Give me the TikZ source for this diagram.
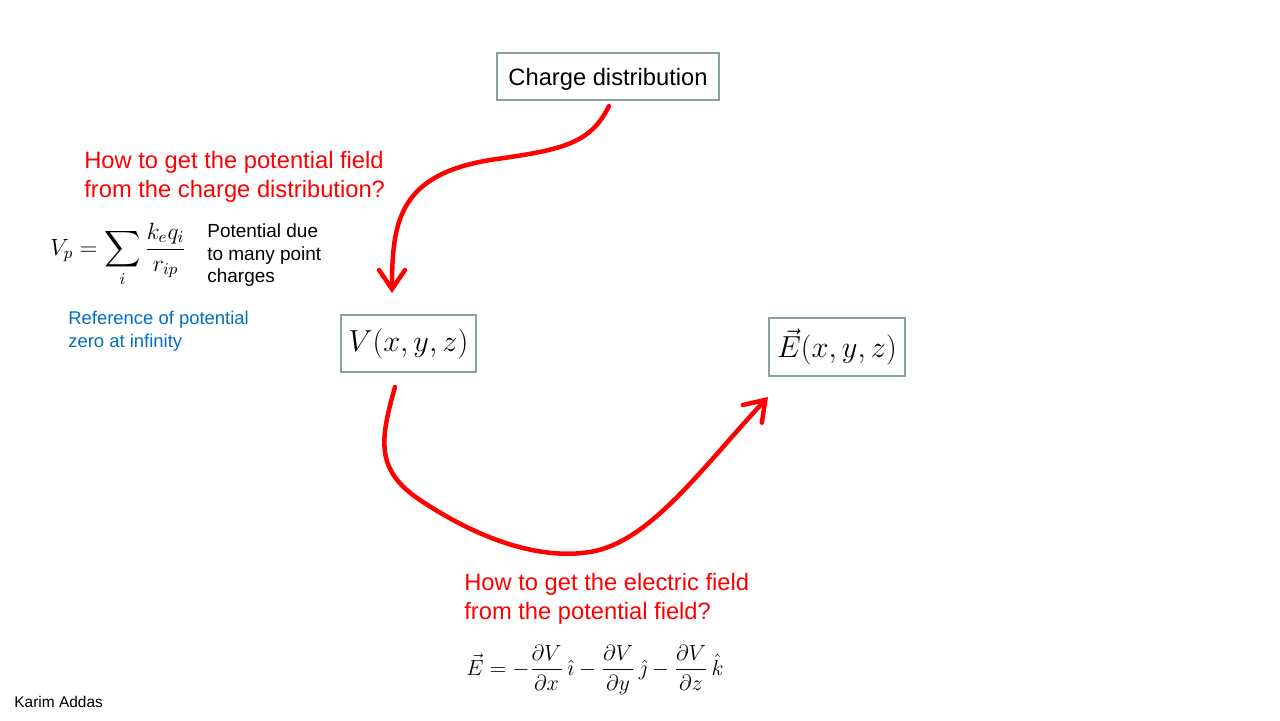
\RequirePackage{fix-cm}
\documentclass[tikz,border=0pt]{standalone}
\usepackage{amsmath}
\usepackage{fontspec}
\setmainfont{Liberation Sans}
\usetikzlibrary{arrows.meta}
\definecolor{boxgray}{RGB}{140,162,162}
\definecolor{pptred}{RGB}{255,0,0}
\definecolor{pptblue}{RGB}{0,112,192}
\tikzset{
  box/.style={draw=boxgray, line width=0.04cm, fill=white, inner sep=0pt, anchor=center},
  redtxt/.style={text=pptred, font=\fontsize{13.5}{16}\selectfont, anchor=base west, inner sep=0pt},
  smalltxt/.style={text=black, font=\fontsize{10.8}{13}\selectfont, anchor=base west, inner sep=0pt},
  bluetxt/.style={text=pptblue, font=\fontsize{10.5}{13}\selectfont, anchor=base west, inner sep=0pt},
  redarrow/.style={draw=pptred, line width=0.09cm, line cap=round, line join=round,
     -{Straight Barb[length=0.38cm,width=0.52cm,line cap=round,line join=miter]}},
  mathbig/.style={font=\fontsize{17.3}{20}\selectfont, inner sep=0pt},
  matheq/.style={inner sep=0pt, anchor=west},
}
\begin{document}
\begin{tikzpicture}[x=0.02cm, y=-0.02cm]
\useasboundingbox (0,0) rectangle (1280,720);
\fill[white] (0,0) rectangle (1280,720);

% boxes
\node[box, minimum width=222*0.02cm, minimum height=47*0.02cm, text height=13.2pt, text depth=2.8pt, font=\fontsize{13.5}{16}\selectfont] (charge) at (608,76.5) {Charge distribution};
\node[box, minimum width=135*0.02cm, minimum height=57*0.02cm, mathbig] (V) at (408.5,343.5) {$V(x,y,z)$};
\node[box, minimum width=136*0.02cm, minimum height=58*0.02cm, mathbig] (E) at (837,347) {$\vec{E}(x,y,z)$};

% arrow anchors
\coordinate (a1s) at (609,106);
\coordinate (a1m) at (490,160);
\coordinate (a1e) at (392,293);
\coordinate (a2s) at (395,387);
\coordinate (a2m) at (420,500);
\coordinate (a2n) at (590,552);
\coordinate (a2e) at (768,397);

\draw[redarrow] (a1s) .. controls (590,145) and (560,150) .. (a1m)
   .. controls (400,175) and (392,220) .. (a1e);
\draw[redarrow] (a2s) .. controls (380,440) and (375,470) .. (a2m)
   .. controls (480,540) and (540,560) .. (a2n)
   .. controls (650,542) and (700,470) .. (a2e);

% red questions
\node[redtxt] (q1a) at (84,168) {How to get the potential field};
\node[redtxt] (q1b) at (84,197) {from the charge distribution?};
\node[redtxt] (q2a) at (464,590) {How to get the electric field};
\node[redtxt] (q2b) at (464,619) {from the potential field?};

% potential equation
\node[matheq, font=\fontsize{13.4}{16}\selectfont] (vp) at (50,255) {$\displaystyle V_p=\sum_i\frac{k_e q_i}{r_{ip}}$};
\node[smalltxt] (pd1) at (207,237) {Potential due};
\node[smalltxt] (pd2) at (207,260) {to many point};
\node[smalltxt] (pd3) at (207,282) {charges};

\node[bluetxt] (ref1) at (68,324) {Reference of potential};
\node[bluetxt] (ref2) at (68,347) {zero at infinity};

% E equation
\node[matheq, font=\fontsize{12.5}{15}\selectfont] (eeq) at (466,670) {$\displaystyle \vec{E}=-\frac{\partial V}{\partial x}\,\hat{\imath}-\frac{\partial V}{\partial y}\,\hat{\jmath}-\frac{\partial V}{\partial z}\,\hat{k}$};

\node[anchor=base west, inner sep=0pt, font=\fontsize{8.8}{10}\selectfont] (author) at (14,707) {Karim Addas};
\end{tikzpicture}
\end{document}
